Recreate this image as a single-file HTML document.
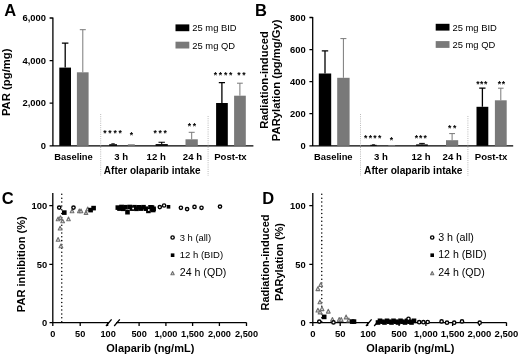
<!DOCTYPE html>
<html><head><meta charset="utf-8"><title>Figure</title>
<style>
html,body{margin:0;padding:0;background:#fff;}
svg{display:block;font-family:"Liberation Sans",Arial,sans-serif;}
text{fill:#000;}
</style></head>
<body>
<svg width="520" height="358" viewBox="0 0 520 358">
<rect width="520" height="358" fill="#fff"/>
<g>
<text x="4.3" y="16" font-size="16.5" font-weight="bold" text-anchor="start" >A</text>
<path d="M52.9 17.4 V145.8 M49.6 145.8 H253.4 M49.6 103.2 H52.9 M49.6 60.6 H52.9 M49.6 18.0 H52.9" stroke="#000" stroke-width="1.3" fill="none"/>
<text x="45.9" y="149.0" font-size="9.4" font-weight="bold" text-anchor="end" >0</text>
<text x="45.9" y="106.4" font-size="9.4" font-weight="bold" text-anchor="end" >2,000</text>
<text x="45.9" y="63.8" font-size="9.4" font-weight="bold" text-anchor="end" >4,000</text>
<text x="45.9" y="21.2" font-size="9.4" font-weight="bold" text-anchor="end" >6,000</text>
<rect x="59.3" y="67.6" width="11.7" height="78.2" fill="#000"/><path d="M65.2 67.6 V43.2 M61.9 43.2 H68.4" stroke="#000" stroke-width="1.3" fill="none"/>
<rect x="76.9" y="72.3" width="11.7" height="73.5" fill="#797979"/><path d="M82.8 72.3 V29.7 M79.8 29.7 H85.8" stroke="#797979" stroke-width="1.0" fill="none"/>
<rect x="109.2" y="144.2" width="7.8" height="1.6" fill="#000"/><path d="M113.1 144.2 V143.7 M111.3 143.7 H114.8" stroke="#000" stroke-width="0.8" fill="none"/>
<rect x="127.9" y="144.3" width="6.9" height="1.5" fill="#797979"/>
<rect x="155.6" y="144.1" width="12.2" height="1.7" fill="#000"/><path d="M161.7 144.1 V142.2 M158.5 142.2 H164.9" stroke="#000" stroke-width="1.1" fill="none"/>
<rect x="185.5" y="139.3" width="12.3" height="6.5" fill="#797979"/><path d="M191.7 139.3 V132.3 M188.7 132.3 H194.7" stroke="#797979" stroke-width="1.0" fill="none"/>
<rect x="216.1" y="103" width="11.7" height="42.8" fill="#000"/><path d="M221.9 103 V82.7 M218.8 82.7 H225.0" stroke="#000" stroke-width="1.3" fill="none"/>
<rect x="234.1" y="95.7" width="11.7" height="50.1" fill="#797979"/><path d="M239.9 95.7 V83.2 M237.0 83.2 H242.8" stroke="#797979" stroke-width="1.0" fill="none"/>
<path d="M100.69999999999999 114 V176" stroke="#aaa" stroke-width="0.8" stroke-dasharray="1 1.2" fill="none"/>
<path d="M208.1 116 V176" stroke="#aaa" stroke-width="0.8" stroke-dasharray="1 1.2" fill="none"/>
<text x="73.5" y="159.9" font-size="9.4" font-weight="bold" text-anchor="middle" >Baseline</text>
<text x="121.1" y="159.9" font-size="9.6" font-weight="bold" text-anchor="middle" >3 h</text>
<text x="156.2" y="159.9" font-size="9.6" font-weight="bold" text-anchor="middle" >12 h</text>
<text x="192.4" y="159.9" font-size="9.6" font-weight="bold" text-anchor="middle" >24 h</text>
<text x="230.4" y="159.9" font-size="9.6" font-weight="bold" text-anchor="middle" >Post-tx</text>
<text x="152.2" y="173.6" font-size="10" font-weight="bold" text-anchor="middle" >After olaparib intake</text>
<text x="113.4" y="136.23" font-size="8.6" font-weight="bold" text-anchor="middle" letter-spacing="1.7">****</text>
<text x="132.25" y="138.33" font-size="8.6" font-weight="bold" text-anchor="middle" letter-spacing="1.7">*</text>
<text x="161.1" y="136.48" font-size="8.6" font-weight="bold" text-anchor="middle" letter-spacing="1.7">***</text>
<text x="192.85" y="129.33" font-size="8.6" font-weight="bold" text-anchor="middle" letter-spacing="1.7">**</text>
<text x="223.9" y="77.53" font-size="8.6" font-weight="bold" text-anchor="middle" letter-spacing="1.7">****</text>
<text x="242.3" y="77.53" font-size="8.6" font-weight="bold" text-anchor="middle" letter-spacing="1.7">**</text>
<rect x="175.5" y="24.4" width="13.8" height="6.8" fill="#000"/>
<rect x="175.5" y="41.7" width="13.8" height="6.8" fill="#797979"/>
<text x="192.3" y="31.2" font-size="9.4" font-weight="normal" text-anchor="start" >25 mg BID</text>
<text x="192.3" y="48.5" font-size="9.4" font-weight="normal" text-anchor="start" >25 mg QD</text>
<text transform="translate(9.9 82.3) rotate(-90)" font-size="11.3" font-weight="bold" text-anchor="middle">PAR (pg/mg)</text>
</g>
<g>
<text x="255" y="16" font-size="16.5" font-weight="bold" text-anchor="start" >B</text>
<path d="M312.7 16.9 V145.8 M309.4 145.8 H513.2 M309.4 113.7 H312.7 M309.4 81.7 H312.7 M309.4 49.6 H312.7 M309.4 17.5 H312.7" stroke="#000" stroke-width="1.3" fill="none"/>
<text x="305.7" y="149.0" font-size="9.4" font-weight="bold" text-anchor="end" >0</text>
<text x="305.7" y="116.9" font-size="9.4" font-weight="bold" text-anchor="end" >200</text>
<text x="305.7" y="84.9" font-size="9.4" font-weight="bold" text-anchor="end" >400</text>
<text x="305.7" y="52.8" font-size="9.4" font-weight="bold" text-anchor="end" >600</text>
<text x="305.7" y="20.7" font-size="9.4" font-weight="bold" text-anchor="end" >800</text>
<rect x="318.8" y="73.5" width="12.4" height="72.3" fill="#000"/><path d="M325.0 73.5 V50.9 M321.8 50.9 H328.2" stroke="#000" stroke-width="1.3" fill="none"/>
<rect x="337.2" y="77.8" width="12.4" height="68.0" fill="#797979"/><path d="M343.4 77.8 V38.6 M340.4 38.6 H346.4" stroke="#797979" stroke-width="1.0" fill="none"/>
<rect x="370.3" y="144.8" width="6.3" height="1.0" fill="#000"/><path d="M373.5 144.8 V144.5 M372.0 144.5 H375.0" stroke="#000" stroke-width="0.6" fill="none"/>
<rect x="388.3" y="145" width="6.8" height="0.8" fill="#797979"/>
<rect x="416.1" y="144.4" width="11.7" height="1.4" fill="#000"/><path d="M422.0 144.4 V143.4 M419.2 143.4 H424.8" stroke="#000" stroke-width="1.0" fill="none"/>
<rect x="446" y="140.2" width="12.2" height="5.6" fill="#797979"/><path d="M452.1 140.2 V133.6 M449.2 133.6 H455.0" stroke="#797979" stroke-width="1.0" fill="none"/>
<rect x="476.5" y="106.8" width="11.8" height="39.0" fill="#000"/><path d="M482.4 106.8 V88.2 M479.2 88.2 H485.5" stroke="#000" stroke-width="1.3" fill="none"/>
<rect x="494.9" y="100.3" width="11.8" height="45.5" fill="#797979"/><path d="M500.8 100.3 V88.2 M498.0 88.2 H503.6" stroke="#797979" stroke-width="1.0" fill="none"/>
<path d="M360.5 114 V176" stroke="#aaa" stroke-width="0.8" stroke-dasharray="1 1.2" fill="none"/>
<path d="M467.9 116 V176" stroke="#aaa" stroke-width="0.8" stroke-dasharray="1 1.2" fill="none"/>
<text x="333.3" y="159.9" font-size="9.4" font-weight="bold" text-anchor="middle" >Baseline</text>
<text x="380.9" y="159.9" font-size="9.6" font-weight="bold" text-anchor="middle" >3 h</text>
<text x="421" y="159.9" font-size="9.6" font-weight="bold" text-anchor="middle" >12 h</text>
<text x="452.2" y="159.9" font-size="9.6" font-weight="bold" text-anchor="middle" >24 h</text>
<text x="491.0" y="159.9" font-size="9.6" font-weight="bold" text-anchor="middle" >Post-tx</text>
<text x="413.3" y="173.6" font-size="10.2" font-weight="bold" text-anchor="middle" >After olaparib intake</text>
<text x="373.36" y="140.63" font-size="8.6" font-weight="bold" text-anchor="middle" letter-spacing="1.32">****</text>
<text x="391.85" y="142.63" font-size="8.6" font-weight="bold" text-anchor="middle" letter-spacing="0.9">*</text>
<text x="421.38" y="140.93" font-size="8.6" font-weight="bold" text-anchor="middle" letter-spacing="1.15">***</text>
<text x="452.98" y="131.13" font-size="8.6" font-weight="bold" text-anchor="middle" letter-spacing="1.75">**</text>
<text x="482.05" y="86.73" font-size="8.6" font-weight="bold" text-anchor="middle" letter-spacing="0.6">***</text>
<text x="501.72" y="86.73" font-size="8.6" font-weight="bold" text-anchor="middle" letter-spacing="0.65">**</text>
<rect x="435.7" y="23.799999999999997" width="13.8" height="6.8" fill="#000"/>
<rect x="435.7" y="41.1" width="13.8" height="6.8" fill="#797979"/>
<text x="452.5" y="30.599999999999998" font-size="9.4" font-weight="normal" text-anchor="start" >25 mg BID</text>
<text x="452.5" y="47.9" font-size="9.4" font-weight="normal" text-anchor="start" >25 mg QD</text>
<text transform="translate(268.4 80) rotate(-90)" font-size="11.2" font-weight="bold" text-anchor="middle">Radiation-induced</text>
<text transform="translate(280.4 80.3) rotate(-90)" font-size="11.25" font-weight="bold" text-anchor="middle">PARylation (pg/mg/Gy)</text>
</g>
<g>
<text x="1.8" y="204" font-size="16.5" font-weight="bold" text-anchor="start" >C</text>
<path d="M52.8 193 V322.6 M49.3 205.7 H52.8 M49.3 264.3 H52.8 M49.5 322.6 H109.1 M116.3 322.6 H246.5 M52.8 322.6 v3.4 M80.2 322.6 v3.4 M107.6 322.6 v3.4 M139.1 322.6 v3.4 M165.9 322.6 v3.4 M192.6 322.6 v3.4 M219.4 322.6 v3.4 M246.5 322.6 v3.4" stroke="#000" stroke-width="1.3" fill="none"/>
<path d="M106.0 326 l5.6 -6.6 M114.19999999999999 326 l5.6 -6.6" stroke="#000" stroke-width="1.3" fill="none"/>
<text x="47.2" y="209.0" font-size="9.4" font-weight="bold" text-anchor="end" >100</text>
<text x="47.2" y="267.6" font-size="9.4" font-weight="bold" text-anchor="end" >50</text>
<text x="47.2" y="325.9" font-size="9.4" font-weight="bold" text-anchor="end" >0</text>
<text x="52.8" y="337.2" font-size="9.2" font-weight="bold" text-anchor="middle" >0</text>
<text x="80.2" y="337.2" font-size="9.2" font-weight="bold" text-anchor="middle" >50</text>
<text x="108.1" y="337.2" font-size="9.2" font-weight="bold" text-anchor="middle" >100</text>
<text x="139.1" y="337.2" font-size="9.2" font-weight="bold" text-anchor="middle" >500</text>
<text x="165.9" y="337.2" font-size="9.2" font-weight="bold" text-anchor="middle" >1,000</text>
<text x="192.6" y="337.2" font-size="9.2" font-weight="bold" text-anchor="middle" >1,500</text>
<text x="219.4" y="337.2" font-size="9.2" font-weight="bold" text-anchor="middle" >2,000</text>
<text x="246.5" y="337.2" font-size="9.2" font-weight="bold" text-anchor="middle" >2,500</text>
<text x="150.3" y="352.3" font-size="11" font-weight="bold" text-anchor="middle" >Olaparib (ng/mL)</text>
<path d="M61.75 194.3 V322.6" stroke="#000" stroke-width="1.5" stroke-linecap="round" stroke-dasharray="0.01 3.85" fill="none"/>
<circle cx="172.6" cy="237.5" r="1.65" fill="#fff" stroke="#000" stroke-width="1.4"/>
<rect x="170.8" y="253.4" width="3.6" height="3.6" fill="#000"/>
<path d="M172.6 271.6 L174.2 274.8 H170.9 Z" fill="#e0e0e0" stroke="#707070" stroke-width="1.1" stroke-linejoin="round"/>
<text x="179.79999999999998" y="240.9" font-size="9.4" font-weight="normal" text-anchor="start" >3 h (all)</text>
<text x="179.79999999999998" y="258.2" font-size="9.5" font-weight="normal" text-anchor="start" >12 h (BID)</text>
<text x="179.79999999999998" y="275.7" font-size="10.6" font-weight="normal" text-anchor="start" >24 h (QD)</text>
<text transform="translate(25.2 264.2) rotate(-90)" font-size="11.1" font-weight="bold" text-anchor="middle">PAR inhibition (%)</text>
<path d="M72.1 209.1 L73.9 212.8 H70.2 Z" fill="#e0e0e0" stroke="#707070" stroke-width="1.1" stroke-linejoin="round"/>
<path d="M79.3 209.1 L81.1 212.8 H77.5 Z" fill="#e0e0e0" stroke="#707070" stroke-width="1.1" stroke-linejoin="round"/>
<path d="M81.0 209.1 L82.8 212.8 H79.2 Z" fill="#e0e0e0" stroke="#707070" stroke-width="1.1" stroke-linejoin="round"/>
<path d="M86.0 210.8 L87.8 214.4 H84.2 Z" fill="#e0e0e0" stroke="#707070" stroke-width="1.1" stroke-linejoin="round"/>
<path d="M87.7 207.0 L89.5 210.7 H85.9 Z" fill="#e0e0e0" stroke="#707070" stroke-width="1.1" stroke-linejoin="round"/>
<path d="M58.1 217.0 L60.0 220.7 H56.2 Z" fill="#e0e0e0" stroke="#707070" stroke-width="1.1" stroke-linejoin="round"/>
<path d="M60.4 215.8 L62.2 219.4 H58.5 Z" fill="#e0e0e0" stroke="#707070" stroke-width="1.1" stroke-linejoin="round"/>
<path d="M62.6 219.2 L64.5 222.8 H60.8 Z" fill="#e0e0e0" stroke="#707070" stroke-width="1.1" stroke-linejoin="round"/>
<path d="M68.5 217.0 L70.3 220.7 H66.7 Z" fill="#e0e0e0" stroke="#707070" stroke-width="1.1" stroke-linejoin="round"/>
<path d="M60.1 226.3 L62.0 230.0 H58.2 Z" fill="#e0e0e0" stroke="#707070" stroke-width="1.1" stroke-linejoin="round"/>
<path d="M58.1 237.6 L60.0 241.2 H56.2 Z" fill="#e0e0e0" stroke="#707070" stroke-width="1.1" stroke-linejoin="round"/>
<path d="M60.9 244.0 L62.8 247.7 H59.0 Z" fill="#e0e0e0" stroke="#707070" stroke-width="1.1" stroke-linejoin="round"/>
<rect x="62.0" y="210.3" width="4.6" height="4.6" fill="#000"/>
<rect x="88.3" y="207.8" width="4.6" height="4.6" fill="#000"/>
<rect x="91.3" y="205.8" width="4.6" height="4.6" fill="#000"/>
<rect x="115.5" y="205.3" width="4.6" height="4.6" fill="#000"/>
<rect x="117.2" y="206.3" width="4.6" height="4.6" fill="#000"/>
<rect x="119.2" y="204.7" width="4.6" height="4.6" fill="#000"/>
<rect x="121.0" y="206.5" width="4.6" height="4.6" fill="#000"/>
<rect x="123.2" y="204.9" width="4.6" height="4.6" fill="#000"/>
<rect x="125.2" y="209.9" width="4.6" height="4.6" fill="#000"/>
<rect x="127.5" y="204.7" width="4.6" height="4.6" fill="#000"/>
<rect x="129.7" y="206.3" width="4.6" height="4.6" fill="#000"/>
<rect x="132.2" y="204.9" width="4.6" height="4.6" fill="#000"/>
<rect x="134.2" y="206.5" width="4.6" height="4.6" fill="#000"/>
<rect x="136.7" y="205.0" width="4.6" height="4.6" fill="#000"/>
<rect x="138.7" y="206.3" width="4.6" height="4.6" fill="#000"/>
<rect x="141.2" y="204.9" width="4.6" height="4.6" fill="#000"/>
<rect x="143.7" y="206.4" width="4.6" height="4.6" fill="#000"/>
<rect x="146.1" y="208.6" width="4.6" height="4.6" fill="#000"/>
<rect x="148.2" y="205.0" width="4.6" height="4.6" fill="#000"/>
<rect x="150.9" y="207.7" width="4.6" height="4.6" fill="#000"/>
<rect x="149.7" y="205.2" width="4.6" height="4.6" fill="#000"/>
<rect x="151.3" y="206.5" width="4.6" height="4.6" fill="#000"/>
<circle cx="59.2" cy="207.6" r="1.65" fill="#fff" stroke="#000" stroke-width="1.4"/>
<circle cx="73.5" cy="207.6" r="1.65" fill="#fff" stroke="#000" stroke-width="1.4"/>
<circle cx="133.1" cy="208.5" r="1.65" fill="#fff" stroke="#000" stroke-width="1.4"/>
<circle cx="148.8" cy="210.0" r="1.65" fill="#fff" stroke="#000" stroke-width="1.4"/>
<circle cx="159.8" cy="207.1" r="1.65" fill="#fff" stroke="#000" stroke-width="1.4"/>
<circle cx="164.1" cy="205.5" r="1.65" fill="#fff" stroke="#000" stroke-width="1.4"/>
<circle cx="180.9" cy="207.8" r="1.65" fill="#fff" stroke="#000" stroke-width="1.4"/>
<circle cx="187.1" cy="209.1" r="1.65" fill="#fff" stroke="#000" stroke-width="1.4"/>
<circle cx="194.5" cy="206.9" r="1.65" fill="#fff" stroke="#000" stroke-width="1.4"/>
<circle cx="201.5" cy="207.8" r="1.65" fill="#fff" stroke="#000" stroke-width="1.4"/>
<circle cx="220.0" cy="206.6" r="1.65" fill="#fff" stroke="#000" stroke-width="1.4"/>
<rect x="166.7" y="205.0" width="3.6" height="3.6" fill="#000"/>
</g>
<g>
<text x="262.3" y="204" font-size="16.5" font-weight="bold" text-anchor="start" >D</text>
<path d="M312.8 193 V322.6 M309.3 205.7 H312.8 M309.3 264.3 H312.8 M309.5 322.6 H369.1 M376.3 322.6 H506.5 M312.8 322.6 v3.4 M340.2 322.6 v3.4 M367.6 322.6 v3.4 M399.1 322.6 v3.4 M425.9 322.6 v3.4 M452.6 322.6 v3.4 M479.4 322.6 v3.4 M506.5 322.6 v3.4" stroke="#000" stroke-width="1.3" fill="none"/>
<path d="M366.0 326 l5.6 -6.6 M374.2 326 l5.6 -6.6" stroke="#000" stroke-width="1.3" fill="none"/>
<text x="305.7" y="209.0" font-size="9.4" font-weight="bold" text-anchor="end" >100</text>
<text x="305.7" y="267.6" font-size="9.4" font-weight="bold" text-anchor="end" >50</text>
<text x="305.7" y="325.9" font-size="9.4" font-weight="bold" text-anchor="end" >0</text>
<text x="312.8" y="337.2" font-size="9.5" font-weight="bold" text-anchor="middle" >0</text>
<text x="340.2" y="337.2" font-size="9.5" font-weight="bold" text-anchor="middle" >50</text>
<text x="368.1" y="337.2" font-size="9.5" font-weight="bold" text-anchor="middle" >100</text>
<text x="399.1" y="337.2" font-size="9.5" font-weight="bold" text-anchor="middle" >500</text>
<text x="425.9" y="337.2" font-size="9.5" font-weight="bold" text-anchor="middle" >1,000</text>
<text x="452.6" y="337.2" font-size="9.5" font-weight="bold" text-anchor="middle" >1,500</text>
<text x="479.4" y="337.2" font-size="9.5" font-weight="bold" text-anchor="middle" >2,000</text>
<text x="506.5" y="337.2" font-size="9.5" font-weight="bold" text-anchor="middle" >2,500</text>
<text x="410.3" y="352.3" font-size="11" font-weight="bold" text-anchor="middle" >Olaparib (ng/mL)</text>
<path d="M321.75 194.3 V322.6" stroke="#000" stroke-width="1.5" stroke-linecap="round" stroke-dasharray="0.01 3.85" fill="none"/>
<circle cx="432.2" cy="237.5" r="1.65" fill="#fff" stroke="#000" stroke-width="1.4"/>
<rect x="430.4" y="253.4" width="3.6" height="3.6" fill="#000"/>
<path d="M432.2 271.6 L433.8 274.8 H430.6 Z" fill="#e0e0e0" stroke="#707070" stroke-width="1.1" stroke-linejoin="round"/>
<text x="438.2" y="240.9" font-size="10.7" font-weight="normal" text-anchor="start" >3 h (all)</text>
<text x="438.2" y="258.2" font-size="10.6" font-weight="normal" text-anchor="start" >12 h (BID)</text>
<text x="438.2" y="275.7" font-size="10.6" font-weight="normal" text-anchor="start" >24 h (QD)</text>
<text transform="translate(268.9 262.5) rotate(-90)" font-size="11" font-weight="bold" text-anchor="middle">Radiation-induced</text>
<text transform="translate(282.6 262) rotate(-90)" font-size="11" font-weight="bold" text-anchor="middle">PARylation (%)</text>
<path d="M317.9 286.8 L319.8 290.6 H316.0 Z" fill="#e0e0e0" stroke="#707070" stroke-width="1.1" stroke-linejoin="round"/>
<path d="M320.7 282.8 L322.6 286.5 H318.8 Z" fill="#e0e0e0" stroke="#707070" stroke-width="1.1" stroke-linejoin="round"/>
<path d="M319.9 300.0 L321.8 303.8 H318.0 Z" fill="#e0e0e0" stroke="#707070" stroke-width="1.1" stroke-linejoin="round"/>
<path d="M317.9 308.2 L319.8 312.0 H316.0 Z" fill="#e0e0e0" stroke="#707070" stroke-width="1.1" stroke-linejoin="round"/>
<path d="M322.0 306.8 L323.9 310.6 H320.1 Z" fill="#e0e0e0" stroke="#707070" stroke-width="1.1" stroke-linejoin="round"/>
<path d="M320.1 310.1 L322.0 313.9 H318.2 Z" fill="#e0e0e0" stroke="#707070" stroke-width="1.1" stroke-linejoin="round"/>
<path d="M328.3 309.3 L330.2 313.1 H326.4 Z" fill="#e0e0e0" stroke="#707070" stroke-width="1.1" stroke-linejoin="round"/>
<path d="M332.4 317.5 L334.2 321.2 H330.5 Z" fill="#e0e0e0" stroke="#707070" stroke-width="1.1" stroke-linejoin="round"/>
<path d="M339.2 317.6 L341.1 321.4 H337.3 Z" fill="#e0e0e0" stroke="#707070" stroke-width="1.1" stroke-linejoin="round"/>
<path d="M341.2 317.6 L343.1 321.4 H339.3 Z" fill="#e0e0e0" stroke="#707070" stroke-width="1.1" stroke-linejoin="round"/>
<path d="M346.1 315.1 L348.0 318.9 H344.2 Z" fill="#e0e0e0" stroke="#707070" stroke-width="1.1" stroke-linejoin="round"/>
<path d="M348.8 318.1 L350.7 321.9 H346.9 Z" fill="#e0e0e0" stroke="#707070" stroke-width="1.1" stroke-linejoin="round"/>
<rect x="321.9" y="314.6" width="4.6" height="4.6" fill="#000"/>
<rect x="349.9" y="319.3" width="4.6" height="4.6" fill="#000"/>
<rect x="351.7" y="319.3" width="4.6" height="4.6" fill="#000"/>
<rect x="375.7" y="320.2" width="4.6" height="4.6" fill="#000"/>
<rect x="377.7" y="318.5" width="4.6" height="4.6" fill="#000"/>
<rect x="380.2" y="319.4" width="4.6" height="4.6" fill="#000"/>
<rect x="382.2" y="320.2" width="4.6" height="4.6" fill="#000"/>
<rect x="384.7" y="318.5" width="4.6" height="4.6" fill="#000"/>
<rect x="386.7" y="319.4" width="4.6" height="4.6" fill="#000"/>
<rect x="389.2" y="320.2" width="4.6" height="4.6" fill="#000"/>
<rect x="391.2" y="318.5" width="4.6" height="4.6" fill="#000"/>
<rect x="393.7" y="319.4" width="4.6" height="4.6" fill="#000"/>
<rect x="395.7" y="320.2" width="4.6" height="4.6" fill="#000"/>
<rect x="398.2" y="318.5" width="4.6" height="4.6" fill="#000"/>
<rect x="400.2" y="319.4" width="4.6" height="4.6" fill="#000"/>
<rect x="402.7" y="320.2" width="4.6" height="4.6" fill="#000"/>
<rect x="404.7" y="318.5" width="4.6" height="4.6" fill="#000"/>
<rect x="407.2" y="319.4" width="4.6" height="4.6" fill="#000"/>
<rect x="409.2" y="320.2" width="4.6" height="4.6" fill="#000"/>
<rect x="411.7" y="318.5" width="4.6" height="4.6" fill="#000"/>
<circle cx="319.3" cy="321.6" r="1.65" fill="#fff" stroke="#000" stroke-width="1.4"/>
<circle cx="333.5" cy="322.4" r="1.65" fill="#fff" stroke="#000" stroke-width="1.4"/>
<circle cx="408.5" cy="318.8" r="1.65" fill="#fff" stroke="#000" stroke-width="1.4"/>
<circle cx="419.2" cy="322.2" r="1.65" fill="#fff" stroke="#000" stroke-width="1.4"/>
<circle cx="423.4" cy="322.2" r="1.65" fill="#fff" stroke="#000" stroke-width="1.4"/>
<circle cx="427.7" cy="322.0" r="1.65" fill="#fff" stroke="#000" stroke-width="1.4"/>
<circle cx="441.6" cy="321.4" r="1.65" fill="#fff" stroke="#000" stroke-width="1.4"/>
<circle cx="447.0" cy="322.7" r="1.65" fill="#fff" stroke="#000" stroke-width="1.4"/>
<circle cx="454.2" cy="322.7" r="1.65" fill="#fff" stroke="#000" stroke-width="1.4"/>
<circle cx="462.0" cy="321.4" r="1.65" fill="#fff" stroke="#000" stroke-width="1.4"/>
<circle cx="479.7" cy="322.7" r="1.65" fill="#fff" stroke="#000" stroke-width="1.4"/>
</g>
</svg>
</body></html>
